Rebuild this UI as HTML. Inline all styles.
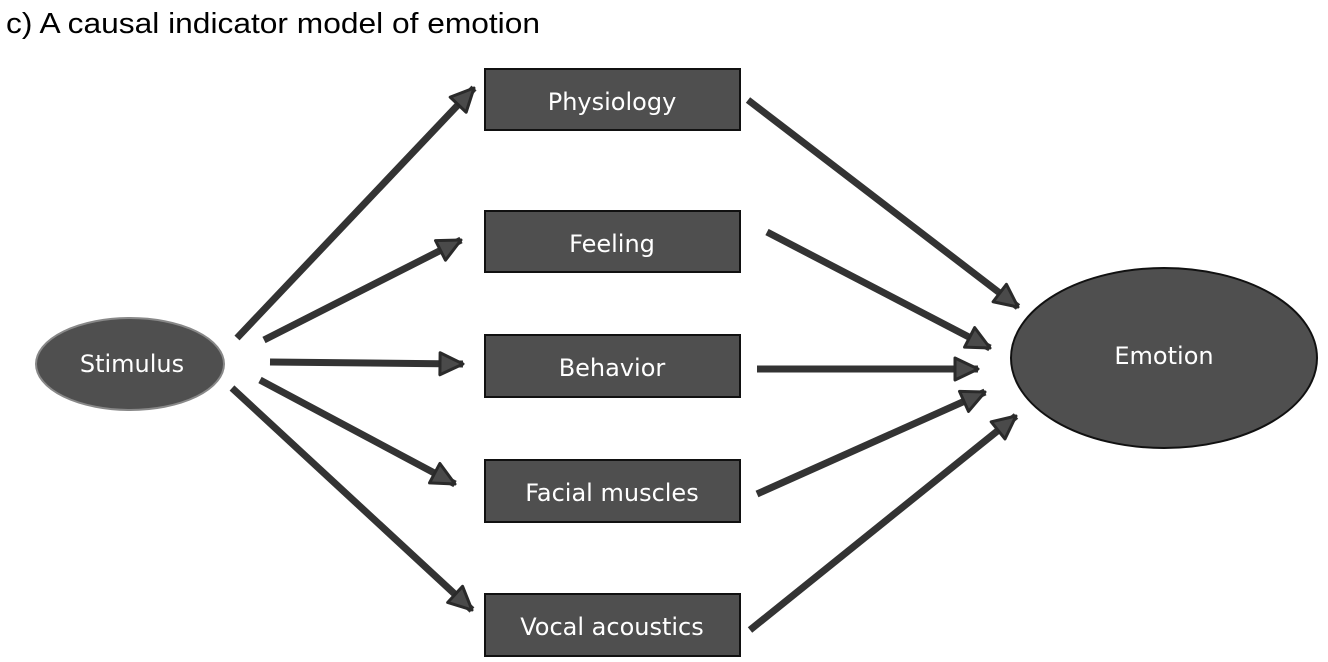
<!DOCTYPE html>
<html><head><meta charset="utf-8"><style>
html,body{margin:0;padding:0;background:#fff;}
svg{display:block;}
.t{font-family:"DejaVu Sans","Liberation Sans",sans-serif;font-size:24px;fill:#fff;text-anchor:middle;dominant-baseline:central;}
</style></head><body>
<svg width="1328" height="662" viewBox="0 0 1328 662" xmlns="http://www.w3.org/2000/svg">
<defs>
<marker id="a" markerUnits="userSpaceOnUse" markerWidth="34" markerHeight="34" refX="25" refY="13" orient="auto">
<polygon points="2,2 25,13 2,24" fill="#4a4a4a" stroke="#2a2a2a" stroke-width="3" stroke-linejoin="round"/>
</marker>
</defs>
<text x="6" y="33" textLength="534" lengthAdjust="spacingAndGlyphs" style="font-family:'Liberation Sans',sans-serif;font-size:29px;fill:#000;">c) A causal indicator model of emotion</text>
<g stroke="#333" stroke-width="7" fill="none" marker-end="url(#a)">
<line x1="237" y1="338" x2="474" y2="88"/>
<line x1="264" y1="340" x2="461" y2="240"/>
<line x1="270" y1="362" x2="463" y2="364"/>
<line x1="260" y1="380" x2="455" y2="484"/>
<line x1="232" y1="388" x2="472" y2="610"/>
<line x1="748" y1="100" x2="1018" y2="307"/>
<line x1="767" y1="232" x2="990" y2="348"/>
<line x1="757" y1="369" x2="978" y2="369"/>
<line x1="757" y1="494" x2="985" y2="392"/>
<line x1="750" y1="630" x2="1016" y2="416"/>
</g>
<g fill="#4f4f4f" stroke="#111" stroke-width="2">
<rect x="485" y="69" width="255" height="61"/>
<rect x="485" y="211" width="255" height="61"/>
<rect x="485" y="335" width="255" height="62"/>
<rect x="485" y="460" width="255" height="62"/>
<rect x="485" y="594" width="255" height="62"/>
<ellipse cx="1164" cy="358" rx="153" ry="90"/>
</g>
<ellipse cx="130" cy="364" rx="94" ry="46" fill="#4f4f4f" stroke="#888" stroke-width="2"/>
<text class="t" x="612" y="102">Physiology</text>
<text class="t" x="612" y="244">Feeling</text>
<text class="t" x="612" y="368">Behavior</text>
<text class="t" x="612" y="493">Facial muscles</text>
<text class="t" x="612" y="627">Vocal acoustics</text>
<text class="t" x="132" y="364">Stimulus</text>
<text class="t" x="1164" y="356">Emotion</text>
</svg>
</body></html>
